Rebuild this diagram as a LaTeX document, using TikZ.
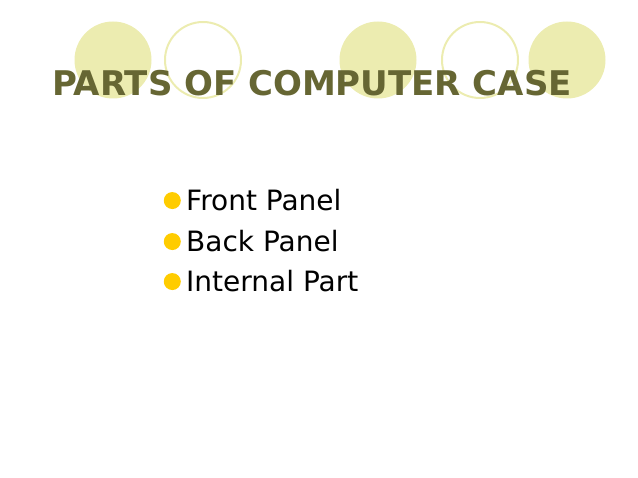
\documentclass[tikz,border=0pt]{standalone}
\usepackage{fontspec}
\setmainfont{DejaVu Sans}
\usetikzlibrary{positioning}
\definecolor{myolive}{RGB}{102,102,51}
\definecolor{mypale}{RGB}{236,236,176}
\definecolor{mygold}{RGB}{255,204,0}

\begin{document}
\begin{tikzpicture}[x=1pt, y=-1pt,
dot/.style={
  circle,
  fill=mypale,
  inner sep=0pt,
  minimum size=77pt},
ring/.style={
  circle,
  draw=mypale,
  line width=2pt,
  inner sep=0pt,
  minimum size=76pt},
bullet/.style={
  circle,
  fill=mygold,
  inner sep=0pt,
  minimum size=17pt},
item/.style={
  anchor=base west,
  inner sep=0pt,
  font=\fontsize{28}{32}\selectfont}
]
\useasboundingbox (0,0) rectangle (638,478);
% circles along the top
\node[dot] (c1) at (113,60) {};
\node[ring] (c2) at (203,60) {};
\node[dot] (c3) at (378,60) {};
\node[ring] (c4) at (480,60) {};
\node[dot] (c5) at (567,60) {};
% heading
\node[anchor=base, inner sep=0pt, text=myolive,
  font=\bfseries\fontsize{34}{38}\selectfont] (title) at (312,96) {PARTS OF COMPUTER CASE};
% list
\node[item] (front) at (186,211) {Front Panel};
\node[item] (back) at (186,252) {Back Panel};
\node[item] (internal) at (186,292) {Internal Part};
\node[bullet, left=5pt of front] (b1) {};
\node[bullet, left=5pt of back] (b2) {};
\node[bullet, left=5pt of internal] (b3) {};
\end{tikzpicture}
\end{document}
